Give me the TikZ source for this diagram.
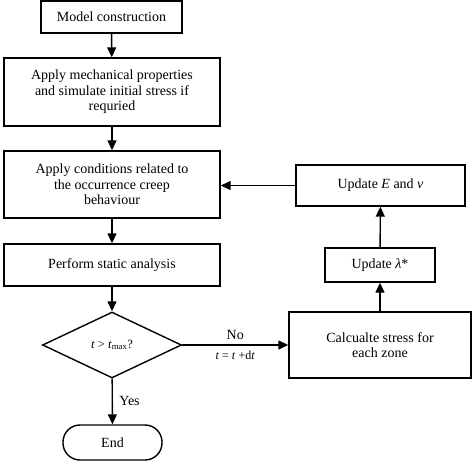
\documentclass[tikz,border=0pt]{standalone}
\usepackage{fontspec}
\setmainfont{Liberation Serif}
\usetikzlibrary{positioning,shapes.geometric,arrows.meta}

\begin{document}
\begin{tikzpicture}[x=1pt, y=-1pt, >={Triangle[length=10pt,width=9pt]}, line width=1.4pt,
    box/.style={draw,rectangle,align=center,inner sep=1pt,font=\fontsize{14}{15.5}\selectfont},
    decision/.style={draw,diamond,aspect=2.1,inner sep=0pt,minimum width=139pt,minimum height=66pt,font=\fontsize{12.5}{14}\selectfont},
    term/.style={draw,rectangle,rounded corners=17pt,minimum width=99pt,minimum height=35pt,font=\fontsize{14}{15.5}\selectfont}]
    \useasboundingbox (0,0) rectangle (474,474);

    % main column
    \node[box,minimum width=141pt,minimum height=32pt] (model) at (111.5,17) {Model construction};
    \node[box,minimum width=216pt,minimum height=68pt] (mech) at (112,92) {Apply mechanical properties\\and simulate initial stress if\\requried};
    \node[box,minimum width=216pt,minimum height=67pt] (cond) at (112,184.5) {Apply conditions related to\\the occurrence creep\\behaviour};
    \node[box,minimum width=216pt,minimum height=42pt] (static) at (112,265) {Perform static analysis};
    \node[decision] (check) at (112,345) {\textit{t} > \textit{t}\textsubscript{max}?};
    \node[term] (end) at (112.5,442.5) {End};

    % update loop
    \node[box,minimum width=182pt,minimum height=66pt] (calc) at (380,345) {Calcualte stress for\\each zone};
    \node[box,minimum width=110pt,minimum height=34pt] (lambda) at (380,265) {Update \textit{λ}*};
    \node[box,minimum width=169pt,minimum height=41pt] (upd) at (380.5,185.5) {Update \textit{E} and \textit{ν}};

    % edges
    \draw[->] (model) -- (mech);
    \draw[->] (mech) -- (cond);
    \draw[->] (cond) -- (static);
    \draw[->] (static) -- (check);
    \draw[->] (check) -- node[right=3pt,font=\fontsize{14}{15.5}\selectfont] {Yes} (end);
    \draw[->] (check) -- node[above=1pt,font=\fontsize{14}{15.5}\selectfont] {No}
        node[below=2pt,font=\fontsize{12}{13}\selectfont] {\textit{t} = \textit{t} +d\textit{t}} (calc);
    \draw[->] (calc) -- (lambda);
    \draw[->] (lambda) -- (upd);
    \draw[->] (upd.west) -- (upd.west -| cond.east);
\end{tikzpicture}
\end{document}
